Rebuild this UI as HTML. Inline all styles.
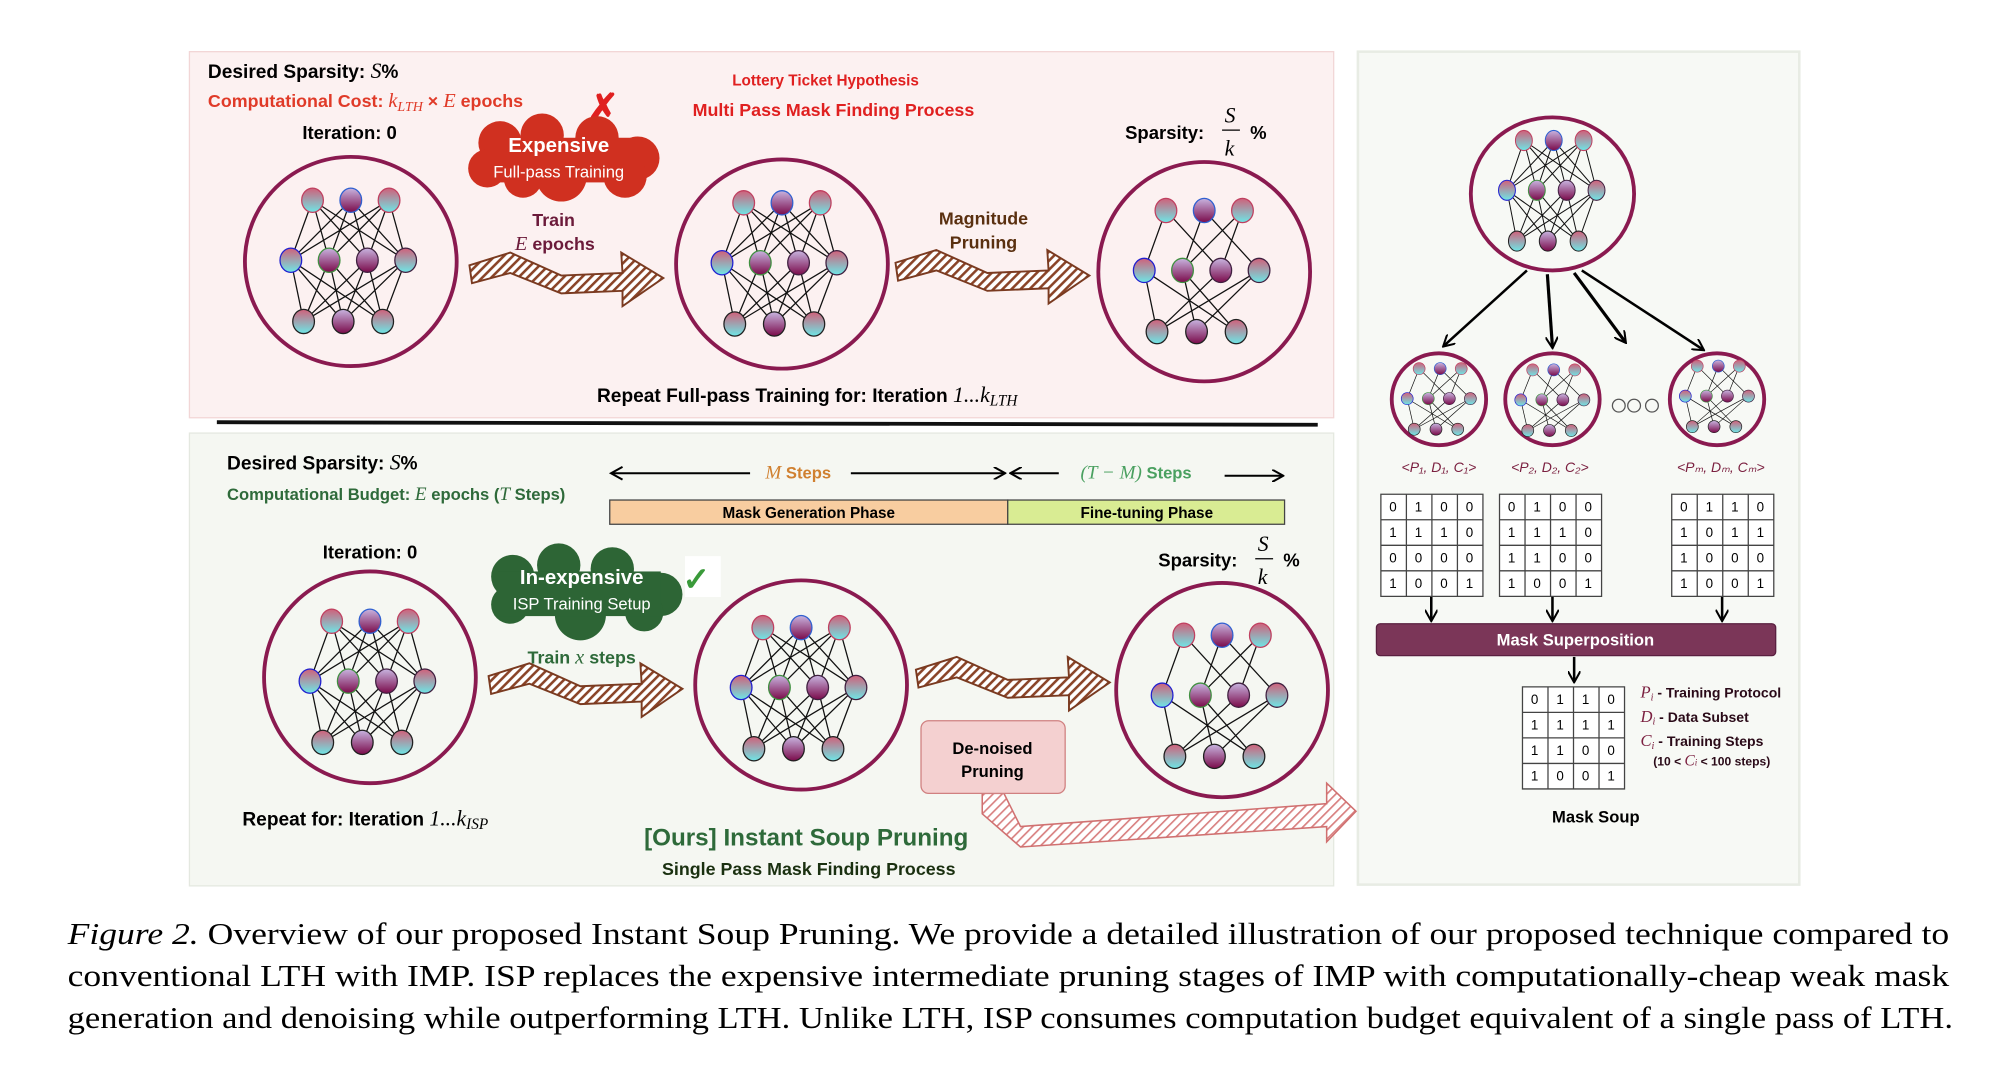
<!DOCTYPE html>
<html><head><meta charset="utf-8"><style>
html,body{margin:0;padding:0;background:#fff;}
svg{display:block}
text{font-family:"Liberation Sans",sans-serif;}
.b{font-weight:bold}
.m{font-family:"Liberation Serif",serif;font-style:italic;font-weight:normal}
.cap{font-family:"Liberation Serif",serif;font-size:24px;fill:#000}
</style></head><body>
<svg width="1990" height="1066" viewBox="0 0 1560 835.7" preserveAspectRatio="none" xmlns="http://www.w3.org/2000/svg">
<defs>
<linearGradient id="gA" x1="0" y1="0" x2="0" y2="1"><stop offset="0" stop-color="#d0607a"/><stop offset="1" stop-color="#6ee6e6"/></linearGradient>
<linearGradient id="gB" x1="0" y1="0" x2="0" y2="1"><stop offset="0" stop-color="#c8b4e0"/><stop offset="1" stop-color="#7a0a4a"/></linearGradient>
<pattern id="hb" width="5" height="5" patternUnits="userSpaceOnUse" patternTransform="rotate(45)"><rect width="5" height="5" fill="#fff"/><rect width="2" height="5" fill="#8a4428"/></pattern>
<pattern id="hp" width="5" height="5" patternUnits="userSpaceOnUse" patternTransform="rotate(45)"><rect width="5" height="5" fill="#fff"/><rect width="1.3" height="5" fill="#d88080"/></pattern>
<marker id="ah" markerWidth="10" markerHeight="10" refX="8" refY="5" orient="auto" markerUnits="userSpaceOnUse"><path d="M0,0 L9,5 L0,10" fill="none" stroke="#000" stroke-width="1.6"/></marker>
<g id="nodes">
<ellipse cx="-30" cy="-48" rx="8.5" ry="9.5" fill="url(#gA)" stroke="#c04060"/>
<ellipse cx="0" cy="-48" rx="8.5" ry="9.5" fill="url(#gB)" stroke="#3060d0"/>
<ellipse cx="30" cy="-48" rx="8.5" ry="9.5" fill="url(#gA)" stroke="#c04060"/>
<ellipse cx="-47" cy="-1" rx="8.5" ry="9.5" fill="url(#gA)" stroke="#2020d0"/>
<ellipse cx="-17" cy="-1" rx="8.5" ry="9.5" fill="url(#gB)" stroke="#409040"/>
<ellipse cx="13" cy="-1" rx="8.5" ry="9.5" fill="url(#gB)" stroke="#402040"/>
<ellipse cx="43" cy="-1" rx="8.5" ry="9.5" fill="url(#gA)" stroke="#402040"/>
<ellipse cx="-37" cy="47" rx="8.5" ry="9.5" fill="url(#gA)" stroke="#202020"/>
<ellipse cx="-6" cy="47" rx="8.5" ry="9.5" fill="url(#gB)" stroke="#202020"/>
<ellipse cx="25" cy="47" rx="8.5" ry="9.5" fill="url(#gA)" stroke="#202020"/>
</g>
<g id="net">
<path d="M-30-48L-47-1M-30-48L-17-1M-30-48L13-1M-30-48L43-1M0-48L-47-1M0-48L-17-1M0-48L13-1M0-48L43-1M30-48L-47-1M30-48L-17-1M30-48L13-1M30-48L43-1M-47-1L-37 47M-47-1L-6 47M-47-1L25 47M-17-1L-37 47M-17-1L-6 47M-17-1L25 47M13-1L-37 47M13-1L-6 47M13-1L25 47M43-1L-37 47M43-1L-6 47M43-1L25 47" stroke="#111" stroke-width="1" fill="none"/>
<use href="#nodes"/>
</g>
<g id="pnet">
<path d="M-30-48L-47-1M-30-48L13-1M0-48L-17-1M0-48L43-1M30-48L-17-1M30-48L13-1M-47-1L-37 47M-47-1L25 47M-17-1L-6 47M-17-1L25 47M13-1L-37 47M43-1L-37 47M43-1L-6 47" stroke="#111" stroke-width="1" fill="none"/>
<use href="#nodes"/>
</g>
<polygon id="harrow" points="0,10 32,0 72,18 120,16 119,0 152,20 120,42 120,30 72,32 32,16 2,24" fill="url(#hb)" stroke="#7a3a20" stroke-width="1.5"/>
</defs>

<!-- panels -->
<rect x="148.5" y="40.5" width="897" height="287" fill="#fcf1f1" stroke="#f2d6d6"/>
<rect x="148.5" y="339.5" width="897" height="355" fill="#f5f7f2" stroke="#e4e8e0"/>
<rect x="1064.5" y="40.5" width="346" height="653" fill="#f7f9f5" stroke="#e8ece4" stroke-width="2"/>
<line x1="170" y1="331" x2="1033" y2="333" stroke="#111" stroke-width="3"/>

<!-- top panel -->
<text x="163" y="61" class="b" font-size="15">Desired Sparsity: <tspan class="m" font-size="17">S</tspan>%</text>
<text x="163" y="84" class="b" font-size="14" fill="#e03a28">Computational Cost: <tspan class="m" font-size="16">k</tspan><tspan class="m" font-size="11" dy="3">LTH</tspan><tspan dy="-3"> × </tspan><tspan class="m" font-size="16">E</tspan> epochs</text>
<text x="460" y="95" class="b" font-size="30" fill="#e02020">✗</text>
<text x="237" y="109" class="b" font-size="14.5">Iteration: 0</text>
<text x="574" y="67" class="b" font-size="12" fill="#e02020">Lottery Ticket Hypothesis</text>
<text x="543" y="91" class="b" font-size="14" fill="#e02020">Multi Pass Mask Finding Process</text>
<text x="882" y="109" class="b" font-size="14.5">Sparsity:</text>
<text x="960" y="96" class="m" font-size="17">S</text><line x1="958" y1="102" x2="972" y2="102" stroke="#000"/><text x="960" y="122" class="m" font-size="17">k</text><text x="980" y="109" class="b" font-size="14.5">%</text>

<g fill="#d03020">
<circle cx="392" cy="112" r="17"/><circle cx="425" cy="106" r="17"/><circle cx="468" cy="108" r="17"/><circle cx="500" cy="124" r="17"/><circle cx="382" cy="132" r="15"/><circle cx="440" cy="138" r="20"/><circle cx="490" cy="138" r="17"/><circle cx="410" cy="140" r="15"/><rect x="380" y="108" width="125" height="35"/>
</g>
<text x="438" y="119" text-anchor="middle" class="b" font-size="16" fill="#fff">Expensive</text>
<text x="438" y="139" text-anchor="middle" font-size="13" fill="#fff">Full-pass Training</text>

<text x="434" y="177" text-anchor="middle" class="b" font-size="14" fill="#6b1a3a">Train</text>
<text x="435" y="196" text-anchor="middle" class="b" font-size="14" fill="#6b1a3a"><tspan class="m" font-size="16">E</tspan> epochs</text>
<text x="771" y="176" text-anchor="middle" class="b" font-size="14" fill="#5a3010">Magnitude</text>
<text x="771" y="195" text-anchor="middle" class="b" font-size="14" fill="#5a3010">Pruning</text>
<text x="468" y="315" class="b" font-size="15">Repeat Full-pass Training for: Iteration <tspan class="m" font-size="17">1...k</tspan><tspan class="m" font-size="12" dy="3">LTH</tspan></text>

<ellipse cx="275" cy="205" rx="83" ry="82" fill="none" stroke="#8a1a50" stroke-width="3"/>
<use href="#net" x="275" y="205"/>
<ellipse cx="613" cy="207" rx="83" ry="82" fill="none" stroke="#8a1a50" stroke-width="3"/>
<use href="#net" x="613" y="207"/>
<ellipse cx="944" cy="213" rx="83" ry="86" fill="none" stroke="#8a1a50" stroke-width="3"/>
<use href="#pnet" x="944" y="213"/>
<use href="#harrow" x="368" y="198"/>
<use href="#harrow" x="702" y="196"/>

<!-- bottom panel -->
<text x="178" y="368" class="b" font-size="15">Desired Sparsity: <tspan class="m" font-size="17">S</tspan>%</text>
<text x="178" y="392" class="b" font-size="13" fill="#2e6a3a">Computational Budget: <tspan class="m" font-size="15">E</tspan> epochs (<tspan class="m" font-size="15">T</tspan> Steps)</text>
<line x1="480" y1="371" x2="588" y2="371" stroke="#000" stroke-width="1.6"/>
<path d="M488,366 L479,371 L488,376" fill="none" stroke="#000" stroke-width="1.6"/>
<text x="600" y="375" class="b" font-size="13" fill="#d08030"><tspan class="m" font-size="15">M</tspan> Steps</text>
<line x1="667" y1="371" x2="787" y2="371" stroke="#000" stroke-width="1.6" marker-end="url(#ah)"/>
<line x1="830" y1="371" x2="793" y2="371" stroke="#000" stroke-width="1.6" marker-end="url(#ah)"/>
<text x="847" y="375" class="b" font-size="13" fill="#4aa060"><tspan class="m" font-size="15">(T − M)</tspan> Steps</text>
<line x1="960" y1="373" x2="1005" y2="373" stroke="#000" stroke-width="1.6" marker-end="url(#ah)"/>
<rect x="478" y="392" width="312" height="19" fill="#f8cda0" stroke="#444"/>
<rect x="790" y="392" width="217" height="19" fill="#d9ec93" stroke="#444"/>
<text x="634" y="406" text-anchor="middle" class="b" font-size="12">Mask Generation Phase</text>
<text x="899" y="406" text-anchor="middle" class="b" font-size="12">Fine-tuning Phase</text>

<text x="253" y="438" class="b" font-size="14.5">Iteration: 0</text>
<text x="908" y="444" class="b" font-size="14.5">Sparsity:</text>
<text x="986" y="432" class="m" font-size="17">S</text><line x1="984" y1="438" x2="998" y2="438" stroke="#000"/><text x="986" y="458" class="m" font-size="17">k</text><text x="1006" y="444" class="b" font-size="14.5">%</text>

<g fill="#2d6535">
<circle cx="402" cy="452" r="17"/><circle cx="438" cy="443" r="17"/><circle cx="480" cy="446" r="17"/><circle cx="518" cy="466" r="17"/><circle cx="400" cy="474" r="15"/><circle cx="455" cy="482" r="20"/><circle cx="505" cy="480" r="15"/><rect x="390" y="448" width="128" height="35"/>
</g>
<text x="456" y="458" text-anchor="middle" class="b" font-size="16" fill="#fff">In-expensive</text>
<text x="456" y="478" text-anchor="middle" font-size="13" fill="#fff">ISP Training Setup</text>
<rect x="537" y="436" width="28" height="32" fill="#fff"/>
<text x="535" y="463" class="b" font-size="26" fill="#3a9a3a">✓</text>
<text x="456" y="520" text-anchor="middle" class="b" font-size="14" fill="#2e6a3a">Train <tspan class="m" font-size="16">x</tspan> steps</text>

<ellipse cx="290" cy="531" rx="83" ry="83" fill="none" stroke="#8a1a50" stroke-width="3"/>
<use href="#net" x="290" y="535"/>
<ellipse cx="628" cy="537" rx="83" ry="82" fill="none" stroke="#8a1a50" stroke-width="3"/>
<use href="#net" x="628" y="540"/>
<ellipse cx="958" cy="541" rx="83" ry="84" fill="none" stroke="#8a1a50" stroke-width="3"/>
<use href="#pnet" x="958" y="546"/>
<use href="#harrow" x="383" y="520"/>
<use href="#harrow" x="718" y="515"/>

<polygon points="770,622 787,622 800,648 1040,630 1040,614 1063,636 1040,660 1040,648 800,664 770,638" fill="url(#hp)" stroke="#d07070" stroke-width="1.2"/>
<rect x="722" y="565" width="113" height="57" rx="6" fill="#f4d0d0" stroke="#d08080"/>
<text x="778" y="591" text-anchor="middle" class="b" font-size="13">De-noised</text>
<text x="778" y="609" text-anchor="middle" class="b" font-size="13">Pruning</text>

<text x="190" y="647" class="b" font-size="15">Repeat for: Iteration <tspan class="m" font-size="17">1...k</tspan><tspan class="m" font-size="12" dy="3">ISP</tspan></text>
<text x="632" y="663" text-anchor="middle" class="b" font-size="19" fill="#2e6a3a">[Ours] Instant Soup Pruning</text>
<text x="634" y="686" text-anchor="middle" class="b" font-size="14" fill="#1a3010">Single Pass Mask Finding Process</text>

<!-- right panel -->
<ellipse cx="1217" cy="152" rx="64" ry="60" fill="none" stroke="#8a1a50" stroke-width="3"/>
<use href="#net" transform="translate(1218,150) scale(0.78,0.83)"/>
<line x1="1197" y1="212" x2="1132" y2="271" stroke="#000" stroke-width="2" marker-end="url(#ah)"/>
<line x1="1213" y1="215" x2="1217" y2="272" stroke="#000" stroke-width="2.5" marker-end="url(#ah)"/>
<line x1="1234" y1="214" x2="1274" y2="268" stroke="#000" stroke-width="2.5" marker-end="url(#ah)"/>
<line x1="1240" y1="212" x2="1335" y2="274" stroke="#000" stroke-width="2" marker-end="url(#ah)"/>
<ellipse cx="1128" cy="313" rx="37" ry="36" fill="none" stroke="#8a1a50" stroke-width="3"/>
<use href="#pnet" transform="translate(1129,313) scale(0.55,0.5)"/>
<ellipse cx="1217" cy="313" rx="37" ry="36" fill="none" stroke="#8a1a50" stroke-width="3"/>
<use href="#pnet" transform="translate(1218,314) scale(0.55,0.5)"/>
<ellipse cx="1346" cy="313" rx="37" ry="36" fill="none" stroke="#8a1a50" stroke-width="3"/>
<use href="#pnet" transform="translate(1347,311) scale(0.55,0.5)"/>
<g fill="none" stroke="#555"><circle cx="1269" cy="318" r="5"/><circle cx="1281" cy="318" r="5"/><circle cx="1295" cy="318" r="5"/></g>
<g class="m" font-size="11" fill="#7b2040" text-anchor="middle">
<text x="1128" y="370">&lt;P₁, D₁, C₁&gt;</text>
<text x="1215" y="370">&lt;P₂, D₂, C₂&gt;</text>
<text x="1349" y="370">&lt;Pₘ, Dₘ, Cₘ&gt;</text>
</g>

<g font-size="10.5" text-anchor="middle" fill="#000">
<g transform="translate(1082,387)">
<path d="M0.5,0.5h80v80h-80zM20.5,0v81M40.5,0v81M60.5,0v81M0,20.5h81M0,40.5h81M0,60.5h81" fill="#fff" stroke="#444"/>
<text x="10" y="14">0</text><text x="30" y="14">1</text><text x="50" y="14">0</text><text x="70" y="14">0</text>
<text x="10" y="34">1</text><text x="30" y="34">1</text><text x="50" y="34">1</text><text x="70" y="34">0</text>
<text x="10" y="54">0</text><text x="30" y="54">0</text><text x="50" y="54">0</text><text x="70" y="54">0</text>
<text x="10" y="74">1</text><text x="30" y="74">0</text><text x="50" y="74">0</text><text x="70" y="74">1</text>
</g>
<g transform="translate(1175,387)">
<path d="M0.5,0.5h80v80h-80zM20.5,0v81M40.5,0v81M60.5,0v81M0,20.5h81M0,40.5h81M0,60.5h81" fill="#fff" stroke="#444"/>
<text x="10" y="14">0</text><text x="30" y="14">1</text><text x="50" y="14">0</text><text x="70" y="14">0</text>
<text x="10" y="34">1</text><text x="30" y="34">1</text><text x="50" y="34">1</text><text x="70" y="34">0</text>
<text x="10" y="54">1</text><text x="30" y="54">1</text><text x="50" y="54">0</text><text x="70" y="54">0</text>
<text x="10" y="74">1</text><text x="30" y="74">0</text><text x="50" y="74">0</text><text x="70" y="74">1</text>
</g>
<g transform="translate(1310,387)">
<path d="M0.5,0.5h80v80h-80zM20.5,0v81M40.5,0v81M60.5,0v81M0,20.5h81M0,40.5h81M0,60.5h81" fill="#fff" stroke="#444"/>
<text x="10" y="14">0</text><text x="30" y="14">1</text><text x="50" y="14">1</text><text x="70" y="14">0</text>
<text x="10" y="34">1</text><text x="30" y="34">0</text><text x="50" y="34">1</text><text x="70" y="34">1</text>
<text x="10" y="54">1</text><text x="30" y="54">0</text><text x="50" y="54">0</text><text x="70" y="54">0</text>
<text x="10" y="74">1</text><text x="30" y="74">0</text><text x="50" y="74">0</text><text x="70" y="74">1</text>
</g>
<g transform="translate(1193,538)">
<path d="M0.5,0.5h80v80h-80zM20.5,0v81M40.5,0v81M60.5,0v81M0,20.5h81M0,40.5h81M0,60.5h81" fill="#fff" stroke="#444"/>
<text x="10" y="14">0</text><text x="30" y="14">1</text><text x="50" y="14">1</text><text x="70" y="14">0</text>
<text x="10" y="34">1</text><text x="30" y="34">1</text><text x="50" y="34">1</text><text x="70" y="34">1</text>
<text x="10" y="54">1</text><text x="30" y="54">1</text><text x="50" y="54">0</text><text x="70" y="54">0</text>
<text x="10" y="74">1</text><text x="30" y="74">0</text><text x="50" y="74">0</text><text x="70" y="74">1</text>
</g>
</g>
<line x1="1122" y1="468" x2="1122" y2="486" stroke="#000" stroke-width="2" marker-end="url(#ah)"/>
<line x1="1217" y1="468" x2="1217" y2="486" stroke="#000" stroke-width="2" marker-end="url(#ah)"/>
<line x1="1350" y1="468" x2="1350" y2="486" stroke="#000" stroke-width="2" marker-end="url(#ah)"/>
<rect x="1079" y="489" width="313" height="25" rx="3" fill="#7b3658" stroke="#5a2040"/>
<text x="1235" y="506" text-anchor="middle" class="b" font-size="13" fill="#fff">Mask Superposition</text>
<line x1="1234" y1="515" x2="1234" y2="534" stroke="#000" stroke-width="2" marker-end="url(#ah)"/>
<g font-size="11" class="b" fill="#2a0a18">
<text x="1286" y="547"><tspan class="m" font-size="13" fill="#7b2040">P</tspan><tspan class="m" font-size="8" fill="#7b2040" dy="2">i</tspan><tspan dy="-2"> - Training Protocol</tspan></text>
<text x="1286" y="566"><tspan class="m" font-size="13" fill="#7b2040">D</tspan><tspan class="m" font-size="8" fill="#7b2040" dy="2">i</tspan><tspan dy="-2"> - Data Subset</tspan></text>
<text x="1286" y="585"><tspan class="m" font-size="13" fill="#7b2040">C</tspan><tspan class="m" font-size="8" fill="#7b2040" dy="2">i</tspan><tspan dy="-2"> - Training Steps</tspan></text>
<text x="1296" y="600" font-size="9.5">(10 &lt; <tspan class="m" font-size="12" fill="#7b2040">C</tspan><tspan class="m" font-size="7" fill="#7b2040">i</tspan> &lt; 100 steps)</text>
</g>
<text x="1251" y="645" text-anchor="middle" class="b" font-size="13">Mask Soup</text>

<!-- caption -->
<text x="53" y="740" class="cap" textLength="1475" lengthAdjust="spacingAndGlyphs"><tspan font-style="italic">Figure 2.</tspan> Overview of our proposed Instant Soup Pruning.  We provide a detailed illustration of our proposed technique compared to</text>
<text x="53" y="773" class="cap" textLength="1475" lengthAdjust="spacingAndGlyphs">conventional LTH with IMP. ISP replaces the expensive intermediate pruning stages of IMP with computationally-cheap weak mask</text>
<text x="53" y="806" class="cap" textLength="1478" lengthAdjust="spacingAndGlyphs">generation and denoising while outperforming LTH. Unlike LTH, ISP consumes computation budget equivalent of a single pass of LTH.</text>
</svg>
</body></html>
